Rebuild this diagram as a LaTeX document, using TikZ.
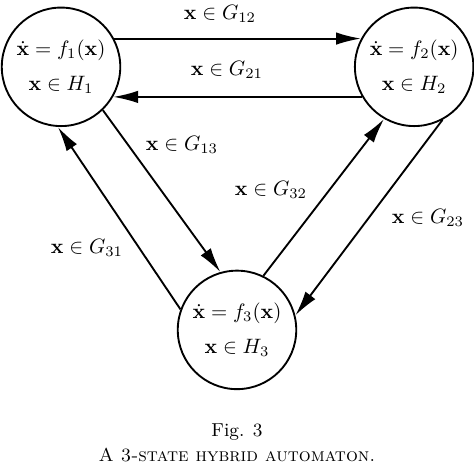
\documentclass[tikz,border=0pt]{standalone}
\usepackage{amsmath,amssymb}
\usepackage{tikz}
\usetikzlibrary{arrows.meta,positioning}
\tikzset{
  state/.style={circle, draw=black, line width=0.9pt, minimum size=2cm, inner sep=0pt, align=center},
  arr/.style={-{Latex[length=4.2mm,width=2.1mm]}, line width=0.9pt, draw=black},
  lbl/.style={inner sep=1pt},
  figcap/.style={font=\small, inner sep=1pt},
}

\begin{document}
\begin{tikzpicture}
  \useasboundingbox (0,0) rectangle (8,7.848);
  % states
  \node[state] (s1) at (1.03,6.72) {$\dot{\mathbf{x}} = f_1(\mathbf{x})$\\[5pt]$\mathbf{x}\in H_1$};
  \node[state] (s2) at (6.99,6.72) {$\dot{\mathbf{x}} = f_2(\mathbf{x})$\\[5pt]$\mathbf{x}\in H_2$};
  \node[state] (s3) at (4.0,2.28)  {$\dot{\mathbf{x}} = f_3(\mathbf{x})$\\[5pt]$\mathbf{x}\in H_3$};
  % transitions
  \draw[arr] (s1.28)  -- (s2.152);
  \draw[arr] (s2.210) -- (s1.330);
  \draw[arr] (s1.-46) -- (s3.106);
  \draw[arr] (s3.160) -- (s1.267);
  \draw[arr] (s3.64)  -- (s2.240);
  \draw[arr] (s2.-62) -- (s3.14);
  % guards
  \node[lbl] (g12) at (3.713,7.61)  {$\mathbf{x}\in G_{12}$};
  \node[lbl] (g21) at (3.83,6.667)  {$\mathbf{x}\in G_{21}$};
  \node[lbl] (g13) at (3.072,5.401) {$\mathbf{x}\in G_{13}$};
  \node[lbl] (g32) at (4.574,4.641) {$\mathbf{x}\in G_{32}$};
  \node[lbl] (g23) at (7.224,4.169) {$\mathbf{x}\in G_{23}$};
  \node[lbl] (g31) at (1.468,3.663) {$\mathbf{x}\in G_{31}$};
  % caption
  \node[figcap] (fig) at (4.0,0.557) {Fig. 3};
  \node[figcap] (cap) at (4.0,0.169) {\textsc{A 3-state hybrid automaton.}};
\end{tikzpicture}
\end{document}
